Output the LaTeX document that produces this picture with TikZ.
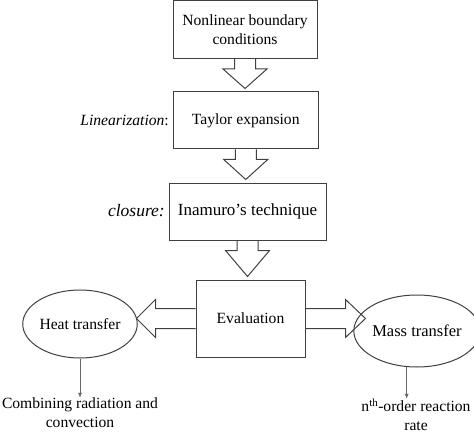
\documentclass[tikz,border=0pt]{standalone}
\usepackage{fontspec}
\setmainfont{Liberation Serif}
\usetikzlibrary{calc,arrows.meta,shapes.geometric}
\newcommand\dnblock[2]{%
  \draw[blockarrow] ($(#1.south)+(-10.5,0)$) -- ++(0,10) -- ++(-11.5,0)
    -- ($(#1.south |- #2.north)+(0,-3)$) -- ($(#1.south)+(22,10)$)
    -- ++(-11.5,0) -- ++(0,-10);}
\begin{document}
\begin{tikzpicture}[x=1pt,y=-1pt,
  box/.style={draw=black!75,line width=1pt,rectangle,inner sep=0pt,align=center,font=\fontsize{15.6}{19}\selectfont},
  oval/.style={draw=black!75,line width=1pt,ellipse,inner sep=0pt,font=\fontsize{15.6}{19}\selectfont},
  blockarrow/.style={draw=black!75,line width=1pt,line join=miter},
  leader/.style={draw=black!60,line width=0.8pt,-{Latex[length=5pt,width=4pt]}},
  lbl/.style={inner sep=0pt,align=center,font=\fontsize{15.6}{19}\selectfont}]
\useasboundingbox (0,0) rectangle (474,433);
\node[box,minimum width=144pt,minimum height=58pt] (b1) at (245,29.5) {Nonlinear boundary\\conditions};
\node[box,minimum width=144.5pt,minimum height=57pt] (b2) at (245.75,120.5) {Taylor expansion};
\node[box,minimum width=157pt,minimum height=57pt,font=\fontsize{17}{20}\selectfont] (b3) at (247.5,211.5) {Inamuro’s technique};
\node[box,minimum width=109pt,minimum height=77pt] (ev) at (250.5,318.5) {Evaluation};
\node[oval,minimum width=100pt,minimum height=68pt] (heat) at (80,324) {Heat transfer};
\node[oval,minimum width=102pt,minimum height=72pt,font=\fontsize{16.5}{20}\selectfont] (mass) at (417,331) {Mass transfer};
\node[lbl,anchor=east] (lin) at (169,120) {\textit{Linearization}:};
\node[lbl,anchor=east,font=\fontsize{17.5}{20}\itshape] (clo) at (165,211) {closure:};
\node[lbl] (ct) at (80,413) {Combining radiation and\\convection};
\node[lbl] (nt) at (416,415) {n\textsuperscript{th}-order reaction\\rate};
\dnblock{b1}{b2}
\dnblock{b2}{b3}
\dnblock{b3}{ev}
\draw[blockarrow] ($(ev.west)+(0,-10)$) -- ++(-40,0) -- ++(0,-9) -- ($(ev.west)+(-59,0)$)
  -- ($(ev.west)+(-40,19)$) -- ++(0,-9) -- ++(40,0);
\draw[blockarrow] ($(ev.east)+(0,-10)$) -- ++(40,0) -- ++(0,-9) -- ($(ev.east)+(60,0)$)
  -- ($(ev.east)+(40,19)$) -- ++(0,-9) -- ++(-40,0);
\draw[leader] (heat.south) -- (heat.south |- ct.north);
\draw[leader] (mass.254) -- (mass.254 |- nt.north);
\end{tikzpicture}
\end{document}
